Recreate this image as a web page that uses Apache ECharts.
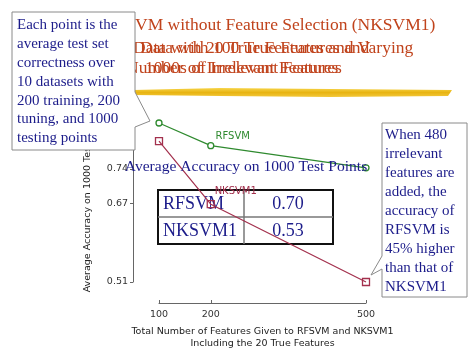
<!DOCTYPE html>
<html><head><meta charset="utf-8">
<script src="https://cdn.jsdelivr.net/npm/echarts@6/dist/echarts.min.js"></script>
<style>html,body{margin:0;padding:0;background:#fff}#c{width:474px;height:355px}</style>
</head><body><div id="c"></div>
<script>
const features = [100, 200, 500];
const rfsvm = [0.833, 0.787, 0.742];
const nksvm1 = [0.796, 0.668, 0.51];
const yTickLabels = [0.51, 0.67, 0.74];
const yTicks = [0.51, 0.67, 0.74, 0.792];
const tableNames = ['RFSVM', 'NKSVM1'];
const tableValues = ['0.70', '0.53'];

const chart = echarts.init(document.getElementById('c'), null, {renderer: 'canvas'});
const sans = 'DejaVu Sans';
const serif = 'Liberation Serif';
const navy = '#1c1c8a';
const green = '#2f8a2f';
const maroon = '#a3304d';

function mk(vals, labelIdx, name, color, offset) {
  return vals.map((v, i) => {
    const d = {value: [features[i], v]};
    if (i === labelIdx) d.label = {show: true, formatter: name, position: 'top', offset: offset,
      color: color, fontFamily: sans, fontSize: 10};
    return d;
  });
}

const g = [];
// yellow brush underline
g.push({type: 'polygon', z: 50, shape: {points: [[133,90],[220,88],[330,89],[452,90],[448,96],[330,97],[220,96],[133,95]]},
  style: {fill: new echarts.graphic.LinearGradient(0,0,0,1,[{offset:0,color:'#f7d54a'},{offset:0.5,color:'#e8b412'},{offset:1,color:'#f2c83a'}])}});
// titles
const tColor = '#c0431c';
g.push({type: 'text', z: 50, x: 135, y: 25, style: {text: 'VM without Feature Selection (NKSVM1)', font: '17.5px ' + serif, fill: tColor, verticalAlign: 'middle'}});
g.push({type: 'text', z: 50, x: 133, y: 48, style: {text: 'Data with 20 True Features and Varying', font: '17.5px ' + serif, fill: tColor, verticalAlign: 'middle'}});
g.push({type: 'text', z: 50, x: 140, y: 48, style: {text: 'Data with 100 True Features and', font: '17.5px ' + serif, fill: tColor, verticalAlign: 'middle'}});
g.push({type: 'text', z: 50, x: 126, y: 68, style: {text: 'Number of Irrelevant Features', font: '17.5px ' + serif, fill: tColor, verticalAlign: 'middle'}});
g.push({type: 'text', z: 50, x: 145, y: 68, style: {text: '1000s of Irrelevant Features', font: '17.5px ' + serif, fill: tColor, verticalAlign: 'middle'}});
// middle text
g.push({type: 'text', z: 60, x: 246, y: 167, style: {text: 'Average Accuracy on 1000 Test Points', font: '15.6px ' + serif, fill: navy, align: 'center', verticalAlign: 'middle'}});
// table
g.push({type: 'rect', z: 5, shape: {x: 158, y: 190, width: 175, height: 54}, style: {fill: 'rgba(255,255,255,0)', stroke: '#111', lineWidth: 2}});
g.push({type: 'line', z: 5, shape: {x1: 158, y1: 217, x2: 333, y2: 217}, style: {stroke: '#777', lineWidth: 1.5}});
g.push({type: 'line', z: 5, shape: {x1: 244, y1: 190, x2: 244, y2: 244}, style: {stroke: '#777', lineWidth: 1.5}});
tableNames.forEach((n, i) => {
  g.push({type: 'text', z: 6, x: 163, y: 204 + i * 27, style: {text: n, font: '18px ' + serif, fill: navy, verticalAlign: 'middle'}});
  g.push({type: 'text', z: 6, x: 288, y: 204 + i * 27, style: {text: tableValues[i], font: '18px ' + serif, fill: navy, align: 'center', verticalAlign: 'middle'}});
});
// left callout
g.push({type: 'polygon', z: 100, shape: {points: [[12,12],[135,12],[135,92],[150,121],[135,127],[135,150],[12,150]]},
  style: {fill: '#fff', stroke: '#8a8a8a', lineWidth: 1}});
g.push({type: 'text', z: 101, x: 17, y: 16, style: {text: 'Each point is the\naverage test set\ncorrectness over\n10 datasets with\n200 training, 200\ntuning, and 1000\ntesting points',
  font: '15px ' + serif, lineHeight: 18.8, fill: navy, verticalAlign: 'top'}});
// right callout
g.push({type: 'polygon', z: 100, shape: {points: [[382,123],[467,123],[467,297],[382,297],[382,269],[371,275],[382,256]]},
  style: {fill: '#fff', stroke: '#8a8a8a', lineWidth: 1}});
g.push({type: 'text', z: 101, x: 385, y: 126, style: {text: 'When 480\nirrelevant\nfeatures are\nadded, the\naccuracy of\nRFSVM is\n45% higher\nthan that of\nNKSVM1',
  font: '15px ' + serif, lineHeight: 19, fill: navy, verticalAlign: 'top'}});

chart.setOption({
  animation: false,
  backgroundColor: '#fff',
  grid: {left: 159, right: 108, top: 122, bottom: 73},
  xAxis: {
    type: 'value', min: 100, max: 500, offset: 21,
    name: 'Total Number of Features Given to RFSVM and NKSVM1\nIncluding the 20 True Features',
    nameLocation: 'middle', nameGap: 23,
    nameTextStyle: {fontFamily: sans, fontSize: 9.5, color: '#222', lineHeight: 12},
    axisLine: {lineStyle: {color: '#666'}},
    axisTick: {customValues: features, length: 3, inside: true, lineStyle: {color: '#666'}},
    axisLabel: {customValues: features, fontFamily: sans, fontSize: 9.5, color: '#333', margin: 7},
    splitLine: {show: false}
  },
  yAxis: {
    type: 'value', min: 0.51, max: 0.835, offset: 26,
    name: 'Average Accuracy on 1000 Test Points', nameLocation: 'middle', nameGap: 40,
    nameTextStyle: {fontFamily: sans, fontSize: 9.5, color: '#222'},
    axisLine: {show: true, lineStyle: {color: '#666'}},
    axisTick: {show: true, customValues: yTicks, length: 3, lineStyle: {color: '#666'}},
    axisLabel: {customValues: yTickLabels, fontFamily: sans, fontSize: 9.5, color: '#333', margin: 5, formatter: v => v.toFixed(2)},
    splitLine: {show: false}
  },
  series: [
    {type: 'line', name: 'RFSVM', z: 10, clip: false, data: mk(rfsvm, 1, 'RFSVM', green, [22, 4]),
      symbol: 'circle', symbolSize: 6, showSymbol: true,
      lineStyle: {color: green, width: 1.2}, itemStyle: {color: '#fff', borderColor: green, borderWidth: 1.3}},
    {type: 'line', name: 'NKSVM1', z: 10, clip: false, data: mk(nksvm1, 1, 'NKSVM1', maroon, [25, 1]),
      symbol: 'rect', symbolSize: 7, showSymbol: true,
      lineStyle: {color: maroon, width: 1.2}, itemStyle: {color: 'rgba(255,255,255,0)', borderColor: maroon, borderWidth: 1.3}}
  ],
  graphic: g
});
</script></body></html>
